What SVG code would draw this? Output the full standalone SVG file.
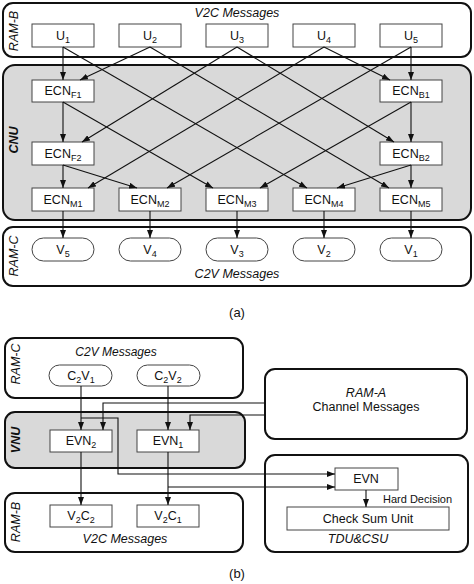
<svg xmlns="http://www.w3.org/2000/svg" width="474" height="584" viewBox="0 0 474 584">
<defs>
<marker id="ar" markerUnits="userSpaceOnUse" markerWidth="8" markerHeight="6" refX="8" refY="3" orient="auto">
<path d="M0,0 L8,3 L0,6 z" fill="#111"/>
</marker>
<style>
text{font-family:"Liberation Sans",Arial,sans-serif;fill:#111}
.ram{fill:#fff;stroke:#111;stroke-width:2}
.unit{fill:#d9d9d9;stroke:#111;stroke-width:2}
.box{fill:#fff;stroke:#444;stroke-width:1}
.lbl{font-size:12.5px;text-anchor:middle}
.it{font-size:12.5px;font-style:italic;text-anchor:middle}
.side{font-size:12.5px;font-style:italic;text-anchor:middle}
.bside{font-size:12.5px;font-style:italic;font-weight:bold;text-anchor:middle}
.sub{font-size:9px}
#conn line,#conn polyline{stroke:#111;stroke-width:1.1;fill:none}
.a{marker-end:url(#ar)}
</style>
</defs>

<!-- (a) containers -->
<g id="ramB_a"><rect class="ram" x="3" y="3" width="468" height="54" rx="10"/>
<text class="it" x="237" y="17">V2C Messages</text>
<text class="side" transform="translate(18,31) rotate(-90)">RAM-B</text></g>
<g id="cnu"><rect class="unit" x="3" y="65" width="468" height="155" rx="12"/>
<text class="bside" transform="translate(18,140) rotate(-90)">CNU</text></g>
<g id="ramC_a"><rect class="ram" x="3" y="227" width="468" height="59" rx="10"/>
<text class="it" x="237" y="278">C2V Messages</text>
<text class="side" transform="translate(18,256) rotate(-90)">RAM-C</text></g>

<!-- U nodes -->
<g id="U1"><rect class="box" x="32" y="24" width="62" height="23"/><text class="lbl" x="63" y="40">U<tspan class="sub" dy="3">1</tspan></text></g>
<g id="U2"><rect class="box" x="119" y="24" width="62" height="23"/><text class="lbl" x="150" y="40">U<tspan class="sub" dy="3">2</tspan></text></g>
<g id="U3"><rect class="box" x="206" y="24" width="62" height="23"/><text class="lbl" x="237" y="40">U<tspan class="sub" dy="3">3</tspan></text></g>
<g id="U4"><rect class="box" x="293" y="24" width="62" height="23"/><text class="lbl" x="324" y="40">U<tspan class="sub" dy="3">4</tspan></text></g>
<g id="U5"><rect class="box" x="380" y="24" width="62" height="23"/><text class="lbl" x="411" y="40">U<tspan class="sub" dy="3">5</tspan></text></g>

<!-- ECN nodes -->
<g id="ECNF1"><rect class="box" x="32" y="80" width="62" height="22"/><text class="lbl" x="63" y="95">ECN<tspan class="sub" dy="3">F1</tspan></text></g>
<g id="ECNB1"><rect class="box" x="380" y="80" width="62" height="22"/><text class="lbl" x="411" y="95">ECN<tspan class="sub" dy="3">B1</tspan></text></g>
<g id="ECNF2"><rect class="box" x="32" y="142" width="62" height="23"/><text class="lbl" x="63" y="158">ECN<tspan class="sub" dy="3">F2</tspan></text></g>
<g id="ECNB2"><rect class="box" x="380" y="142" width="62" height="23"/><text class="lbl" x="411" y="158">ECN<tspan class="sub" dy="3">B2</tspan></text></g>
<g id="ECNM1"><rect class="box" x="32" y="188" width="62" height="23"/><text class="lbl" x="63" y="204">ECN<tspan class="sub" dy="3">M1</tspan></text></g>
<g id="ECNM2"><rect class="box" x="119" y="188" width="62" height="23"/><text class="lbl" x="150" y="204">ECN<tspan class="sub" dy="3">M2</tspan></text></g>
<g id="ECNM3"><rect class="box" x="206" y="188" width="62" height="23"/><text class="lbl" x="237" y="204">ECN<tspan class="sub" dy="3">M3</tspan></text></g>
<g id="ECNM4"><rect class="box" x="293" y="188" width="62" height="23"/><text class="lbl" x="324" y="204">ECN<tspan class="sub" dy="3">M4</tspan></text></g>
<g id="ECNM5"><rect class="box" x="380" y="188" width="62" height="23"/><text class="lbl" x="411" y="204">ECN<tspan class="sub" dy="3">M5</tspan></text></g>

<!-- V nodes -->
<g id="V5"><rect class="box" x="32" y="238" width="62" height="23" rx="11.5"/><text class="lbl" x="63" y="254">V<tspan class="sub" dy="3">5</tspan></text></g>
<g id="V4"><rect class="box" x="119" y="238" width="62" height="23" rx="11.5"/><text class="lbl" x="150" y="254">V<tspan class="sub" dy="3">4</tspan></text></g>
<g id="V3"><rect class="box" x="206" y="238" width="62" height="23" rx="11.5"/><text class="lbl" x="237" y="254">V<tspan class="sub" dy="3">3</tspan></text></g>
<g id="V2"><rect class="box" x="293" y="238" width="62" height="23" rx="11.5"/><text class="lbl" x="324" y="254">V<tspan class="sub" dy="3">2</tspan></text></g>
<g id="V1"><rect class="box" x="380" y="238" width="62" height="23" rx="11.5"/><text class="lbl" x="411" y="254">V<tspan class="sub" dy="3">1</tspan></text></g>

<text id="capA" x="237" y="317" style="font-size:13px;text-anchor:middle">(a)</text>

<!-- (b) containers -->
<g id="ramC_b"><rect class="ram" x="5" y="338" width="238" height="60" rx="10"/>
<text class="it" x="116" y="356" style="font-size:12px">C2V Messages</text>
<text class="side" transform="translate(20,364) rotate(-90)">RAM-C</text></g>
<g id="vnu"><rect class="unit" x="5" y="412" width="240" height="56" rx="10"/>
<text class="bside" transform="translate(20,440) rotate(-90)">VNU</text></g>
<g id="ramB_b"><rect class="ram" x="5" y="493" width="238" height="59" rx="10"/>
<text class="it" x="125" y="543">V2C Messages</text>
<text class="side" transform="translate(20,522) rotate(-90)">RAM-B</text></g>
<g id="ramA"><rect class="ram" x="265" y="369" width="202" height="70" rx="10"/>
<text class="it" x="366" y="397">RAM-A</text>
<text class="lbl" x="366" y="411">Channel Messages</text></g>
<g id="tdu"><rect class="ram" x="265" y="455" width="203" height="97" rx="10"/>
<text class="it" x="358" y="543">TDU&amp;CSU</text></g>

<g id="C2V1"><rect class="box" x="49" y="365" width="63" height="21" rx="10.5"/><text class="lbl" x="81" y="380">C<tspan class="sub" dy="3">2</tspan><tspan dy="-3">V</tspan><tspan class="sub" dy="3">1</tspan></text></g>
<g id="C2V2"><rect class="box" x="137" y="365" width="63" height="21" rx="10.5"/><text class="lbl" x="168" y="380">C<tspan class="sub" dy="3">2</tspan><tspan dy="-3">V</tspan><tspan class="sub" dy="3">2</tspan></text></g>
<g id="EVN2"><rect class="box" x="50" y="430" width="62" height="22"/><text class="lbl" x="81" y="445">EVN<tspan class="sub" dy="3">2</tspan></text></g>
<g id="EVN1"><rect class="box" x="137" y="430" width="62" height="22"/><text class="lbl" x="168" y="445">EVN<tspan class="sub" dy="3">1</tspan></text></g>
<g id="V2C2"><rect class="box" x="50" y="505" width="62" height="22"/><text class="lbl" x="81" y="520">V<tspan class="sub" dy="3">2</tspan><tspan dy="-3">C</tspan><tspan class="sub" dy="3">2</tspan></text></g>
<g id="V2C1"><rect class="box" x="137" y="505" width="62" height="22"/><text class="lbl" x="168" y="520">V<tspan class="sub" dy="3">2</tspan><tspan dy="-3">C</tspan><tspan class="sub" dy="3">1</tspan></text></g>
<g id="EVN"><rect class="box" x="335" y="468" width="63" height="22"/><text class="lbl" x="366" y="483">EVN</text></g>
<g id="CSU"><rect class="box" x="287" y="507" width="162" height="23"/><text class="lbl" x="368" y="523">Check Sum Unit</text></g>
<text id="hd" x="383" y="503" style="font-size:11px">Hard Decision</text>

<text id="capB" x="237" y="578" style="font-size:13px;text-anchor:middle">(b)</text>

<g id="conn">
<line class="a" x1="63" y1="47" x2="63" y2="80"/>
<line class="a" x1="63" y1="47" x2="307" y2="188"/>
<line class="a" x1="150" y1="47" x2="80" y2="80"/>
<line class="a" x1="150" y1="47" x2="389" y2="188"/>
<line class="a" x1="237" y1="47" x2="82" y2="142"/>
<line class="a" x1="237" y1="47" x2="394" y2="142"/>
<line class="a" x1="324" y1="47" x2="390" y2="80"/>
<line class="a" x1="324" y1="47" x2="88" y2="188"/>
<line class="a" x1="411" y1="47" x2="411" y2="80"/>
<line class="a" x1="411" y1="47" x2="167" y2="188"/>
<line class="a" x1="63" y1="102" x2="63" y2="142"/>
<line class="a" x1="63" y1="102" x2="213" y2="188"/>
<line class="a" x1="411" y1="102" x2="411" y2="142"/>
<line class="a" x1="411" y1="102" x2="260" y2="188"/>
<line class="a" x1="63" y1="165" x2="63" y2="188"/>
<line class="a" x1="63" y1="165" x2="137" y2="188"/>
<line class="a" x1="411" y1="165" x2="411" y2="188"/>
<line class="a" x1="411" y1="165" x2="337" y2="188"/>
<line class="a" x1="63" y1="211" x2="63" y2="238"/>
<line class="a" x1="150" y1="211" x2="150" y2="238"/>
<line class="a" x1="237" y1="211" x2="237" y2="238"/>
<line class="a" x1="324" y1="211" x2="324" y2="238"/>
<line class="a" x1="411" y1="211" x2="411" y2="238"/>

<line class="a" x1="81" y1="386" x2="81" y2="430"/>
<polyline class="a" points="81,418 118,418 118,474 335,474"/>
<line class="a" x1="168" y1="386" x2="168" y2="430"/>
<polyline class="a" points="265,403 103,403 103,430"/>
<polyline class="a" points="265,415 190,415 190,430"/>
<line class="a" x1="81" y1="452" x2="81" y2="505"/>
<line class="a" x1="168" y1="452" x2="168" y2="505"/>
<line class="a" x1="168" y1="487" x2="335" y2="487"/>
<line class="a" x1="366" y1="490" x2="366" y2="507"/>
</g>
</svg>
